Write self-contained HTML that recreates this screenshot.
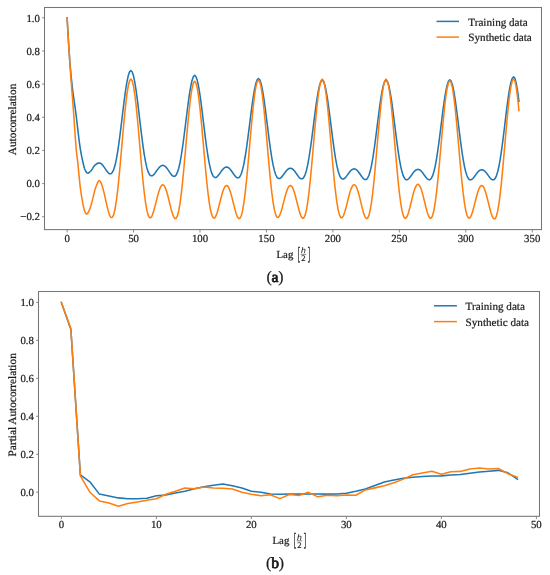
<!DOCTYPE html>
<html lang="en"><head><meta charset="utf-8"><title>Autocorrelation</title>
<style>html,body{margin:0;padding:0;background:#fff}svg{display:block}text{text-rendering:geometricPrecision;font-family:"Liberation Serif","DejaVu Serif",serif;fill:#1a1a1a;stroke:#1a1a1a;stroke-width:0.22px;paint-order:stroke}.m{font-family:"DejaVu Sans","Liberation Sans",sans-serif;stroke-width:0.1px}.br{font-family:"DejaVu Sans Light","DejaVu Sans",sans-serif;stroke-width:0.25px}</style></head><body>
<svg width="550" height="575" viewBox="0 0 550 575">
<rect x="0" y="0" width="550" height="575" fill="#ffffff"/>
<clipPath id="ca"><rect x="44.5" y="7.5" width="497.00" height="222.10"/></clipPath>
<g clip-path="url(#ca)" fill="none" stroke-width="1.55" stroke-linejoin="round" stroke-linecap="square">
<polyline stroke="#1f77b4" points="67.10,17.80 68.43,40.68 69.76,60.91 71.09,75.83 72.42,88.27 73.74,98.00 75.07,107.05 76.40,117.49 77.73,128.93 79.06,140.05 80.39,149.51 81.72,156.70 83.05,162.76 84.38,168.24 85.70,171.23 87.03,173.04 88.36,173.15 89.69,172.09 91.02,170.67 92.35,168.84 93.68,166.66 95.01,165.03 96.34,164.04 97.66,163.26 98.99,162.88 100.32,163.19 101.65,164.11 102.98,165.55 104.31,167.36 105.64,169.35 106.97,171.27 108.30,172.84 109.62,173.77 110.95,173.76 112.28,172.53 113.61,169.85 114.94,165.57 116.27,159.63 117.60,152.07 118.93,143.07 120.26,132.94 121.58,122.08 122.91,111.00 124.24,100.27 125.57,90.47 126.90,82.16 128.23,75.83 129.56,71.87 130.89,70.52 132.22,71.92 133.54,76.01 134.87,82.54 136.20,91.11 137.53,101.19 138.86,112.21 140.19,123.56 141.52,134.64 142.85,144.96 144.18,154.08 145.51,161.70 146.83,167.68 148.16,171.96 149.49,174.62 150.82,175.83 152.15,175.85 153.48,174.94 154.81,173.41 156.14,171.56 157.47,169.65 158.79,167.91 160.12,166.54 161.45,165.66 162.78,165.36 164.11,165.68 165.44,166.62 166.77,168.07 168.10,169.90 169.43,171.90 170.75,173.83 172.08,175.41 173.41,176.34 174.74,176.33 176.07,175.11 177.40,172.45 178.73,168.22 180.06,162.36 181.39,154.92 182.71,146.09 184.04,136.17 185.37,125.55 186.70,114.74 188.03,104.27 189.36,94.73 190.69,86.64 192.02,80.49 193.35,76.64 194.67,75.33 196.00,76.68 197.33,80.62 198.66,86.92 199.99,95.18 201.32,104.92 202.65,115.58 203.98,126.56 205.31,137.31 206.63,147.33 207.96,156.20 209.29,163.64 210.62,169.48 211.95,173.68 213.28,176.29 214.61,177.49 215.94,177.51 217.27,176.60 218.59,175.08 219.92,173.23 221.25,171.32 222.58,169.59 223.91,168.21 225.24,167.32 226.57,167.02 227.90,167.34 229.23,168.26 230.55,169.69 231.88,171.49 233.21,173.47 234.54,175.37 235.87,176.92 237.20,177.84 238.53,177.82 239.86,176.62 241.19,174.01 242.51,169.84 243.84,164.07 245.17,156.76 246.50,148.07 247.83,138.31 249.16,127.86 250.49,117.23 251.82,106.94 253.15,97.56 254.47,89.60 255.80,83.55 257.13,79.77 258.46,78.48 259.79,79.80 261.12,83.65 262.45,89.81 263.78,97.89 265.11,107.42 266.44,117.84 267.76,128.59 269.09,139.11 270.42,148.92 271.75,157.61 273.08,164.91 274.41,170.63 275.74,174.75 277.07,177.31 278.40,178.49 279.72,178.50 281.05,177.62 282.38,176.12 283.71,174.30 285.04,172.42 286.37,170.71 287.70,169.35 289.03,168.48 290.36,168.18 291.68,168.49 293.01,169.40 294.34,170.81 295.67,172.58 297.00,174.52 298.33,176.40 299.66,177.93 300.99,178.83 302.32,178.82 303.64,177.63 304.97,175.05 306.30,170.92 307.63,165.20 308.96,157.95 310.29,149.33 311.62,139.63 312.95,129.26 314.28,118.69 315.60,108.46 316.93,99.12 318.26,91.21 319.59,85.19 320.92,81.42 322.25,80.14 323.58,81.44 324.91,85.25 326.24,91.35 327.56,99.34 328.89,108.77 330.22,119.07 331.55,129.70 332.88,140.10 334.21,149.79 335.54,158.38 336.87,165.58 338.20,171.24 339.52,175.30 340.85,177.83 342.18,178.99 343.51,179.00 344.84,178.13 346.17,176.66 347.50,174.87 348.83,173.01 350.16,171.33 351.48,169.99 352.81,169.14 354.14,168.84 355.47,169.16 356.80,170.07 358.13,171.49 359.46,173.28 360.79,175.24 362.12,177.12 363.44,178.67 364.77,179.58 366.10,179.57 367.43,178.37 368.76,175.76 370.09,171.61 371.42,165.85 372.75,158.54 374.08,149.85 375.40,140.08 376.73,129.63 378.06,118.98 379.39,108.67 380.72,99.26 382.05,91.29 383.38,85.23 384.71,81.43 386.04,80.14 387.36,81.45 388.69,85.28 390.02,91.40 391.35,99.44 392.68,108.91 394.01,119.27 395.34,129.96 396.67,140.43 398.00,150.19 399.32,158.85 400.65,166.11 401.98,171.82 403.31,175.92 404.64,178.48 405.97,179.65 407.30,179.66 408.63,178.78 409.96,177.28 411.29,175.47 412.61,173.58 413.94,171.87 415.27,170.51 416.60,169.64 417.93,169.34 419.26,169.64 420.59,170.51 421.92,171.87 423.25,173.58 424.57,175.46 425.90,177.28 427.23,178.78 428.56,179.66 429.89,179.65 431.22,178.48 432.55,175.91 433.88,171.80 435.21,166.08 436.53,158.80 437.86,150.12 439.19,140.33 440.52,129.82 441.85,119.09 443.18,108.69 444.51,99.18 445.84,91.11 447.17,84.97 448.49,81.12 449.82,79.81 451.15,81.13 452.48,84.99 453.81,91.17 455.14,99.28 456.47,108.83 457.80,119.27 459.13,130.03 460.45,140.56 461.78,150.36 463.11,159.04 464.44,166.31 465.77,172.01 467.10,176.10 468.43,178.65 469.76,179.82 471.09,179.83 472.41,178.95 473.74,177.48 475.07,175.69 476.40,173.84 477.73,172.15 479.06,170.82 480.39,169.97 481.72,169.67 483.05,169.96 484.37,170.81 485.70,172.14 487.03,173.82 488.36,175.67 489.69,177.46 491.02,178.95 492.35,179.83 493.68,179.82 495.01,178.63 496.33,176.04 497.66,171.87 498.99,166.04 500.32,158.59 501.65,149.68 502.98,139.60 504.31,128.76 505.64,117.65 506.97,106.87 508.29,96.99 509.62,88.60 510.95,82.20 512.28,78.19 513.61,76.82 514.94,78.49 516.27,83.36 517.60,91.15 518.93,101.36"/>
<polyline stroke="#ff7f0e" points="67.10,17.80 68.43,40.68 69.76,61.74 71.09,80.80 72.42,97.37 73.74,114.53 75.07,134.73 76.40,151.24 77.73,161.86 79.06,175.84 80.39,188.49 81.72,197.14 83.05,204.55 84.38,210.46 85.70,213.56 87.03,214.06 88.36,212.18 89.69,209.45 91.02,205.18 92.35,200.36 93.68,194.81 95.01,189.43 96.34,185.70 97.66,182.66 98.99,180.53 100.32,181.47 101.65,184.20 102.98,188.45 104.31,193.84 105.64,199.83 106.97,205.82 108.30,211.17 109.62,215.27 110.95,217.54 112.28,217.52 113.61,214.91 114.94,209.54 116.27,201.46 117.60,190.88 118.93,178.18 120.26,163.93 121.58,148.78 122.91,133.48 124.24,118.82 125.57,105.57 126.90,94.43 128.23,86.01 129.56,80.76 130.89,78.98 132.22,80.83 133.54,86.27 134.87,94.97 136.20,106.44 137.53,120.01 138.86,134.92 140.19,150.35 141.52,165.51 142.85,179.63 144.18,192.07 145.51,202.34 146.83,210.09 148.16,215.18 149.49,217.63 150.82,217.64 152.15,215.56 153.48,211.85 154.81,207.04 156.14,201.71 157.47,196.41 158.79,191.68 160.12,187.95 161.45,185.58 162.78,184.76 164.11,185.60 165.44,188.05 166.77,191.89 168.10,196.76 169.43,202.20 170.75,207.66 172.08,212.58 173.41,216.36 174.74,218.47 176.07,218.45 177.40,215.98 178.73,210.87 180.06,203.11 181.39,192.86 182.71,180.47 184.04,166.46 185.37,151.47 186.70,136.24 188.03,121.56 189.36,108.22 190.69,96.97 192.02,88.44 193.35,83.11 194.67,81.30 196.00,83.12 197.33,88.47 198.66,97.05 199.99,108.34 201.32,121.70 202.65,136.39 203.98,151.60 205.31,166.53 206.63,180.46 207.96,192.74 209.29,202.86 210.62,210.52 211.95,215.54 213.28,217.96 214.61,217.98 215.94,215.92 217.27,212.25 218.59,207.49 219.92,202.21 221.25,196.97 222.58,192.28 223.91,188.59 225.24,186.23 226.57,185.42 227.90,186.25 229.23,188.64 230.55,192.38 231.88,197.14 233.21,202.47 234.54,207.83 235.87,212.66 237.20,216.39 238.53,218.47 239.86,218.46 241.19,216.00 242.51,210.90 243.84,203.15 245.17,192.88 246.50,180.43 247.83,166.32 249.16,151.19 250.49,135.77 251.82,120.90 253.15,107.36 254.47,95.92 255.80,87.24 257.13,81.82 258.46,79.97 259.79,81.82 261.12,87.23 262.45,95.90 263.78,107.31 265.11,120.80 266.44,135.60 267.76,150.91 269.09,165.92 270.42,179.89 271.75,192.17 273.08,202.29 274.41,209.91 275.74,214.90 277.07,217.30 278.40,217.32 279.72,215.29 281.05,211.68 282.38,207.00 283.71,201.83 285.04,196.69 286.37,192.11 287.70,188.51 289.03,186.21 290.36,185.42 291.68,186.23 293.01,188.60 294.34,192.30 295.67,197.01 297.00,202.27 298.33,207.58 299.66,212.37 300.99,216.07 302.32,218.14 303.64,218.13 304.97,215.68 306.30,210.60 307.63,202.85 308.96,192.57 310.29,180.11 311.62,165.97 312.95,150.78 314.28,135.30 315.60,120.34 316.93,106.72 318.26,95.21 319.59,86.46 320.92,81.00 322.25,79.15 323.58,80.99 324.91,86.41 326.24,95.09 327.56,106.53 328.89,120.07 330.22,134.95 331.55,150.36 332.88,165.49 334.21,179.60 335.54,192.05 336.87,202.32 338.20,210.08 339.52,215.17 340.85,217.63 342.18,217.64 343.51,215.56 344.84,211.83 346.17,207.00 347.50,201.64 348.83,196.31 350.16,191.55 351.48,187.81 352.81,185.42 354.14,184.59 355.47,185.44 356.80,187.90 358.13,191.75 359.46,196.64 360.79,202.10 362.12,207.59 363.44,212.53 364.77,216.34 366.10,218.46 367.43,218.45 368.76,215.95 370.09,210.79 371.42,202.93 372.75,192.55 374.08,180.00 375.40,165.78 376.73,150.55 378.06,135.07 379.39,120.14 380.72,106.56 382.05,95.11 383.38,86.42 384.71,80.99 386.04,79.15 387.36,80.98 388.69,86.39 390.02,95.06 391.35,106.48 392.68,120.02 394.01,134.91 395.34,150.35 396.67,165.54 398.00,179.73 399.32,192.26 400.65,202.62 401.98,210.47 403.31,215.63 404.64,218.12 405.97,218.13 407.30,216.01 408.63,212.20 409.96,207.26 411.29,201.77 412.61,196.31 413.94,191.42 415.27,187.57 416.60,185.11 417.93,184.26 419.26,185.11 420.59,187.57 421.92,191.43 423.25,196.33 424.57,201.79 425.90,207.28 427.23,212.22 428.56,216.02 429.89,218.13 431.22,218.12 432.55,215.64 433.88,210.51 435.21,202.73 436.53,192.46 437.86,180.05 439.19,166.02 440.52,151.01 441.85,135.76 443.18,121.07 444.51,107.73 445.84,96.47 447.17,87.94 448.49,82.61 449.82,80.80 451.15,82.63 452.48,88.01 453.81,96.62 455.14,107.96 456.47,121.38 457.80,136.13 459.13,151.40 460.45,166.39 461.78,180.36 463.11,192.67 464.44,202.83 465.77,210.50 467.10,215.54 468.43,217.96 469.76,217.98 471.09,215.92 472.41,212.25 473.74,207.49 475.07,202.20 476.40,196.96 477.73,192.27 479.06,188.59 480.39,186.23 481.72,185.42 483.05,186.25 484.37,188.67 485.70,192.45 487.03,197.26 488.36,202.64 489.69,208.05 491.02,212.93 492.35,216.69 493.68,218.80 495.01,218.78 496.33,216.30 497.66,211.16 498.99,203.33 500.32,192.96 501.65,180.39 502.98,166.15 504.31,150.87 505.64,135.31 506.97,120.29 508.29,106.62 509.62,95.08 510.95,86.31 512.28,80.84 513.61,78.98 514.94,81.11 516.27,87.38 517.60,97.42 518.93,110.65"/>
</g>
<g stroke="#8a8a8a" stroke-width="1">
<line x1="67.10" y1="229.60" x2="67.10" y2="232.50"/>
<line x1="133.54" y1="229.60" x2="133.54" y2="232.50"/>
<line x1="199.99" y1="229.60" x2="199.99" y2="232.50"/>
<line x1="266.44" y1="229.60" x2="266.44" y2="232.50"/>
<line x1="332.88" y1="229.60" x2="332.88" y2="232.50"/>
<line x1="399.32" y1="229.60" x2="399.32" y2="232.50"/>
<line x1="465.77" y1="229.60" x2="465.77" y2="232.50"/>
<line x1="532.22" y1="229.60" x2="532.22" y2="232.50"/>
<line x1="42.10" y1="216.76" x2="44.50" y2="216.76"/>
<line x1="42.10" y1="183.60" x2="44.50" y2="183.60"/>
<line x1="42.10" y1="150.44" x2="44.50" y2="150.44"/>
<line x1="42.10" y1="117.28" x2="44.50" y2="117.28"/>
<line x1="42.10" y1="84.12" x2="44.50" y2="84.12"/>
<line x1="42.10" y1="50.96" x2="44.50" y2="50.96"/>
<line x1="42.10" y1="17.80" x2="44.50" y2="17.80"/>
</g>
<rect x="44.5" y="7.5" width="497.00" height="222.10" fill="none" stroke="#767676" stroke-width="1.05"/>
<text x="67.10" y="241.70" font-size="10.8" text-anchor="middle">0</text>
<text x="133.54" y="241.70" font-size="10.8" text-anchor="middle">50</text>
<text x="199.99" y="241.70" font-size="10.8" text-anchor="middle">100</text>
<text x="266.44" y="241.70" font-size="10.8" text-anchor="middle">150</text>
<text x="332.88" y="241.70" font-size="10.8" text-anchor="middle">200</text>
<text x="399.32" y="241.70" font-size="10.8" text-anchor="middle">250</text>
<text x="465.77" y="241.70" font-size="10.8" text-anchor="middle">300</text>
<text x="532.22" y="241.70" font-size="10.8" text-anchor="middle">350</text>
<text x="39.90" y="220.46" font-size="10.8" text-anchor="end">−0.2</text>
<text x="39.90" y="187.30" font-size="10.8" text-anchor="end">0.0</text>
<text x="39.90" y="154.14" font-size="10.8" text-anchor="end">0.2</text>
<text x="39.90" y="120.98" font-size="10.8" text-anchor="end">0.4</text>
<text x="39.90" y="87.82" font-size="10.8" text-anchor="end">0.6</text>
<text x="39.90" y="54.66" font-size="10.8" text-anchor="end">0.8</text>
<text x="39.90" y="21.50" font-size="10.8" text-anchor="end">1.0</text>
<text transform="translate(16.30,119.45) rotate(-90)" font-size="11.3" text-anchor="middle">Autocorrelation</text>
<text x="276.50" y="257.70" font-size="10.8">Lag</text>
<text class="br" transform="translate(297.15,259.60) scale(0.8,1.53)" font-size="11.3">[</text>
<text class="m" x="303.45" y="253.00" font-size="7.7" font-style="italic" text-anchor="middle">h</text>
<line x1="300.65" y1="254.30" x2="306.15" y2="254.30" stroke="#3a3a3a" stroke-width="0.65"/>
<text class="m" x="303.40" y="261.30" font-size="7.7" text-anchor="middle">2</text>
<text class="br" transform="translate(306.95,259.60) scale(0.8,1.53)" font-size="11.3">]</text>
<text x="275" y="281.60" font-size="15.5" text-anchor="middle" fill="#000"><tspan font-size="15.8">(</tspan><tspan stroke="#000" stroke-width="0.7" dx="-0.2">a</tspan><tspan font-size="15.8" dx="-0.2">)</tspan></text>
<line x1="436.5" y1="21.4" x2="459.0" y2="21.4" stroke="#1f77b4" stroke-width="1.5"/>
<line x1="436.5" y1="37.1" x2="459.0" y2="37.1" stroke="#ff7f0e" stroke-width="1.5"/>
<text x="468.3" y="25.60" font-size="11.15">Training data</text>
<text x="468.3" y="41.30" font-size="11.15">Synthetic data</text>
<clipPath id="cb"><rect x="38.5" y="291.5" width="501.00" height="224.80"/></clipPath>
<g clip-path="url(#cb)" fill="none" stroke-width="1.55" stroke-linejoin="round" stroke-linecap="square">
<polyline stroke="#1f77b4" points="61.37,302.40 70.87,329.54 80.37,474.93 89.87,481.76 99.37,494.10 108.87,496.00 118.37,497.89 127.87,498.75 137.37,498.84 146.87,498.27 156.37,495.69 165.87,494.90 175.37,493.07 184.87,491.18 194.37,488.71 203.87,486.70 213.37,485.22 222.87,483.91 232.37,485.80 241.87,487.99 251.37,491.18 260.87,492.35 270.37,493.95 279.87,494.19 289.37,494.10 298.87,494.10 308.37,494.00 317.87,494.10 327.37,494.10 336.87,493.91 346.37,493.34 355.87,491.36 365.37,488.90 374.87,485.56 384.37,481.91 393.87,480.01 403.37,478.31 412.87,477.30 422.37,476.45 431.87,476.03 441.37,475.88 450.87,475.02 460.37,474.59 469.87,473.28 479.37,471.99 488.87,471.25 498.37,470.37 507.87,472.84 517.37,479.10"/>
<polyline stroke="#ff7f0e" points="61.37,302.40 70.87,328.59 80.37,475.88 89.87,492.20 99.37,500.93 108.87,503.11 118.37,506.15 127.87,503.59 137.37,502.07 146.87,500.36 156.37,498.75 165.87,494.29 175.37,491.18 184.87,487.99 194.37,488.86 203.87,486.96 213.37,487.93 222.87,488.27 232.37,488.99 241.87,492.20 251.37,494.23 260.87,495.69 270.37,494.82 279.87,498.60 289.37,494.53 298.87,495.41 308.37,492.35 317.87,496.85 327.37,495.24 336.87,495.71 346.37,495.05 355.87,495.29 365.37,489.92 374.87,487.87 384.37,485.69 393.87,482.65 403.37,479.12 412.87,474.70 422.37,472.99 431.87,471.25 441.37,474.30 450.87,471.82 460.37,471.38 469.87,468.91 479.37,468.04 488.87,468.91 498.37,468.47 507.87,473.69 517.37,477.21"/>
</g>
<g stroke="#8a8a8a" stroke-width="1">
<line x1="61.37" y1="516.30" x2="61.37" y2="519.20"/>
<line x1="156.37" y1="516.30" x2="156.37" y2="519.20"/>
<line x1="251.37" y1="516.30" x2="251.37" y2="519.20"/>
<line x1="346.37" y1="516.30" x2="346.37" y2="519.20"/>
<line x1="441.37" y1="516.30" x2="441.37" y2="519.20"/>
<line x1="536.37" y1="516.30" x2="536.37" y2="519.20"/>
<line x1="36.10" y1="492.20" x2="38.50" y2="492.20"/>
<line x1="36.10" y1="454.24" x2="38.50" y2="454.24"/>
<line x1="36.10" y1="416.28" x2="38.50" y2="416.28"/>
<line x1="36.10" y1="378.32" x2="38.50" y2="378.32"/>
<line x1="36.10" y1="340.36" x2="38.50" y2="340.36"/>
<line x1="36.10" y1="302.40" x2="38.50" y2="302.40"/>
</g>
<rect x="38.5" y="291.5" width="501.00" height="224.80" fill="none" stroke="#767676" stroke-width="1.05"/>
<text x="61.37" y="528.40" font-size="10.8" text-anchor="middle">0</text>
<text x="156.37" y="528.40" font-size="10.8" text-anchor="middle">10</text>
<text x="251.37" y="528.40" font-size="10.8" text-anchor="middle">20</text>
<text x="346.37" y="528.40" font-size="10.8" text-anchor="middle">30</text>
<text x="441.37" y="528.40" font-size="10.8" text-anchor="middle">40</text>
<text x="536.37" y="528.40" font-size="10.8" text-anchor="middle">50</text>
<text x="33.90" y="495.90" font-size="10.8" text-anchor="end">0.0</text>
<text x="33.90" y="457.94" font-size="10.8" text-anchor="end">0.2</text>
<text x="33.90" y="419.98" font-size="10.8" text-anchor="end">0.4</text>
<text x="33.90" y="382.02" font-size="10.8" text-anchor="end">0.6</text>
<text x="33.90" y="344.06" font-size="10.8" text-anchor="end">0.8</text>
<text x="33.90" y="306.10" font-size="10.8" text-anchor="end">1.0</text>
<text transform="translate(15.80,404.80) rotate(-90)" font-size="11.3" text-anchor="middle">Partial Autocorrelation</text>
<text x="272.50" y="544.20" font-size="10.8">Lag</text>
<text class="br" transform="translate(293.15,546.10) scale(0.8,1.53)" font-size="11.3">[</text>
<text class="m" x="299.45" y="539.50" font-size="7.7" font-style="italic" text-anchor="middle">h</text>
<line x1="296.65" y1="540.80" x2="302.15" y2="540.80" stroke="#3a3a3a" stroke-width="0.65"/>
<text class="m" x="299.40" y="547.80" font-size="7.7" text-anchor="middle">2</text>
<text class="br" transform="translate(302.95,546.10) scale(0.8,1.53)" font-size="11.3">]</text>
<text x="275" y="568.40" font-size="15.5" text-anchor="middle" fill="#000"><tspan font-size="15.8">(</tspan><tspan stroke="#000" stroke-width="0.7" dx="-0.2">b</tspan><tspan font-size="15.8" dx="-0.2">)</tspan></text>
<line x1="434.0" y1="305.8" x2="456.9" y2="305.8" stroke="#1f77b4" stroke-width="1.5"/>
<line x1="434.0" y1="321.6" x2="456.9" y2="321.6" stroke="#ff7f0e" stroke-width="1.5"/>
<text x="465.6" y="310.00" font-size="11.15">Training data</text>
<text x="465.6" y="325.80" font-size="11.15">Synthetic data</text>
</svg></body></html>
